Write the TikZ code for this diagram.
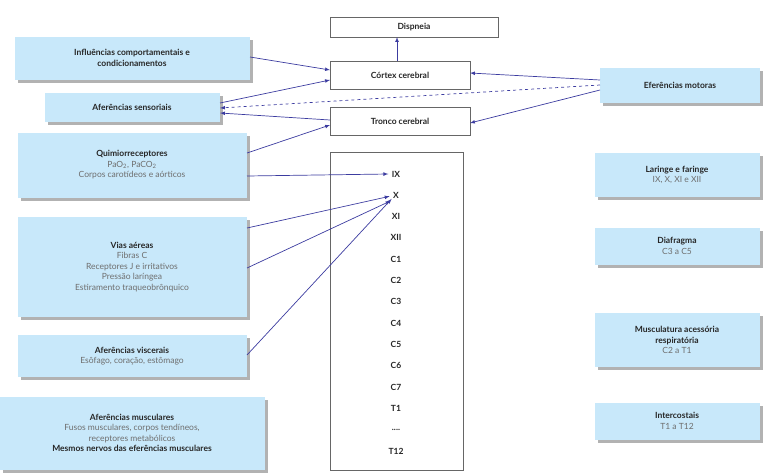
\documentclass[tikz,border=0pt]{standalone}
\usepackage{fontspec}
\setmainfont{Lato}
\definecolor{boxblue}{RGB}{200,232,250}
\definecolor{arr}{RGB}{60,60,160}
\definecolor{sub}{RGB}{110,110,110}
\newcommand\myfourdots{....}
\begin{document}
\begin{tikzpicture}[x=1pt,y=-1pt,
  wb/.style={draw=gray!80!black,fill=white,line width=0.8pt},
  a/.style={draw=arr,line width=0.7pt,-latex},
  t/.style={font=\fontsize{8.5}{10.5}\selectfont\bfseries,align=center,text=black!85}]
\useasboundingbox (0,0) rectangle (768,474);
% white boxes
\draw[wb] (330,17) rectangle (498,37); \node[t] (disp) at (414,27) {Dispneia};
\draw[wb] (330,61) rectangle (470,89); \node[t] (cort) at (400,75) {Córtex cerebral};
\draw[wb] (330,107) rectangle (470,135); \node[t] (tron) at (400,121) {Tronco cerebral};
\draw[wb] (330,152) rectangle (463,470);
\foreach \l [count=\i from 0] in {IX,X,XI,XII,C1,C2,C3,C4,C5,C6,C7,T1,\myfourdots,T12}
  \node[t] (n\i) at (396,174+21.3*\i) {\l};
% blue boxes (shadow)
\foreach \xa/\ya/\xb/\yb in {15/37/250/80,45/93/220/122,18/133/247/198,18/217/247/317,18/335/247/377,0/397/265/470,600/68/760/103,595/153/760/197,595/228/760/265,595/313/760/367,595/403/760/440}{
  \fill[gray!60] (\xa+3,\ya+3) rectangle (\xb+3,\yb+3);
  \fill[boxblue] (\xa,\ya) rectangle (\xb,\yb);}
\node[t] (inf) at (132,58) {Influências comportamentais e\\condicionamentos};
\node[t] (sens) at (132,107) {Aferências sensoriais};
\node[t] (quim) at (132,165) {Quimiorreceptores\\\mdseries\color{sub}PaO\textsubscript{2}, PaCO\textsubscript{2}\\\mdseries\color{sub}Corpos carotídeos e aórticos};
\node[t] (vias) at (132,267) {Vias aéreas\\\mdseries\color{sub}Fibras C\\\mdseries\color{sub}Receptores J e irritativos\\\mdseries\color{sub}Pressão laríngea\\\mdseries\color{sub}Estiramento traqueobrônquico};
\node[t] (visc) at (132,356) {Aferências viscerais\\\mdseries\color{sub}Esôfago, coração, estômago};
\node[t] (musc) at (132,433) {Aferências musculares\\\mdseries\color{sub}Fusos musculares, corpos tendíneos,\\\mdseries\color{sub}receptores metabólicos\\Mesmos nervos das eferências musculares};
\node[t] (efer) at (680,85) {Eferências motoras};
\node[t] (lar) at (677,175) {Laringe e faringe\\\mdseries\color{sub}IX, X, XI e XII};
\node[t] (dia) at (677,246) {Diafragma\\\mdseries\color{sub}C3 a C5};
\node[t] (mac) at (677,340) {Musculatura acessória\\respiratória\\\mdseries\color{sub}C2 a T1};
\node[t] (int) at (677,421) {Intercostais\\\mdseries\color{sub}T1 a T12};
% arrows
\coordinate (ci1) at (250,57); \coordinate (co1) at (330,70);
\draw[a] (ci1) -- (co1);
\coordinate (cs1) at (220,103); \coordinate (co2) at (330,80);
\draw[a] (cs1) -- (co2);
\coordinate (ce1) at (600,85); \coordinate (cs2) at (220,108);
\draw[a,dashed] (ce1) -- (cs2);
\coordinate (ct1) at (330,120); \coordinate (cs3) at (220,113);
\draw[a] (ct1) -- (cs3);
\coordinate (cq1) at (247,153); \coordinate (ct2) at (330,125);
\draw[a] (cq1) -- (ct2);
\coordinate (cq2) at (247,176);
\draw[a] (cq2) -- (n0.west);
\coordinate (cv1) at (247,228); \coordinate (cv2) at (247,268); \coordinate (cx1) at (247,355);
\draw[a] (cv1) -- ([yshift=-1]n1.west);
\draw[a] (cv2) -- ([xshift=1,yshift=1]n1.south west);
\draw[a] (cx1) -- ([xshift=2,yshift=3]n1.south west);
\coordinate (cd) at (397,61);
\draw[a] (cd) -- (397,37);
\coordinate (ce2) at (600,80); \coordinate (ce3) at (600,90);
\draw[a] (ce2) -- (470,73);
\draw[a] (ce3) -- (470,123);
\end{tikzpicture}
\end{document}
